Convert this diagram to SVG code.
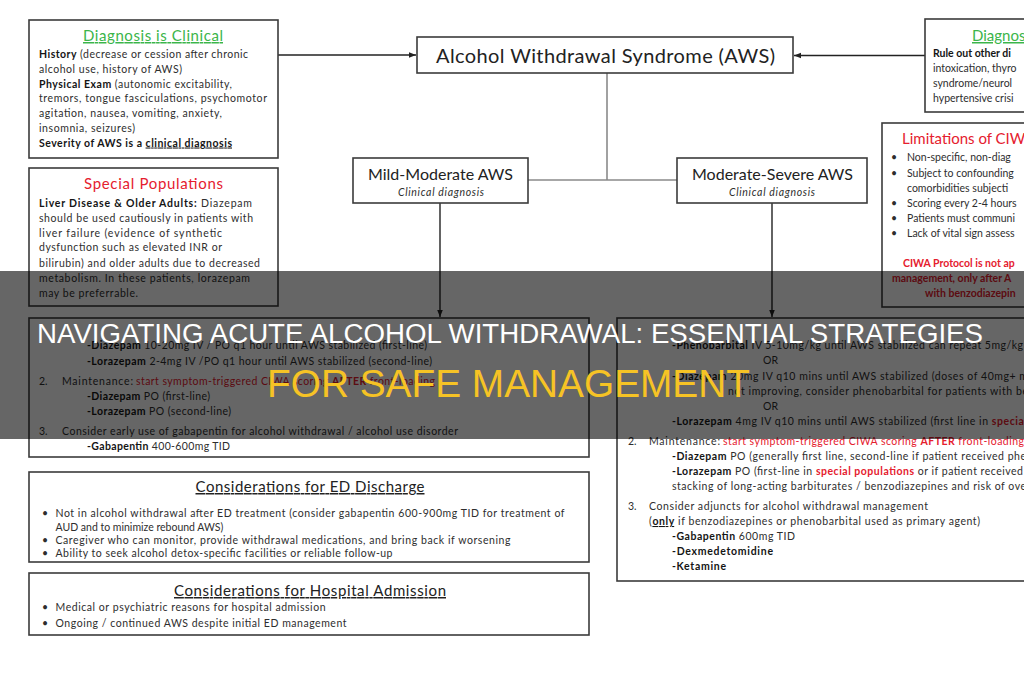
<svg xmlns="http://www.w3.org/2000/svg" width="1024" height="680" viewBox="0 0 1024 680">
<style>
.bx{fill:#fff;stroke:#3b3b3b;stroke-width:1.6}
.t{font-family:Lato,"Liberation Sans",sans-serif;font-size:10.5px;fill:#2e2e2e}
.b{font-weight:700;fill:#151515}
.r{fill:#e5202e}
.rb{fill:#e5202e;font-weight:700}
.g{fill:#3bb54a}
.h{font-size:15px}
.m{font-size:16px;fill:#222}
.u{text-decoration:underline}
.i{font-style:italic}
.ln{stroke:#222;stroke-width:1.4;fill:none}
.gl{stroke:#8a8a8a;stroke-width:1.6;fill:none}
.ttl{font-family:"Liberation Sans",Arial,sans-serif;text-anchor:middle}
</style>
<defs>
<marker id="arr" viewBox="0 0 10 10" refX="10" refY="5" markerUnits="userSpaceOnUse" markerWidth="7" markerHeight="7" orient="auto"><path d="M0,1 L10,5 L0,9 z" fill="#222"/></marker>
</defs>
<rect width="1024" height="680" fill="#fff"/>

<g id="connectors">
<line class="ln" x1="278" y1="55" x2="416" y2="55" marker-end="url(#arr)"/>
<line class="ln" x1="925" y1="55.5" x2="794" y2="55.5" marker-end="url(#arr)"/>
<line class="gl" x1="607" y1="73" x2="607" y2="180"/>
<line class="gl" x1="528" y1="180" x2="677" y2="180"/>
<line class="ln" x1="440" y1="203" x2="440" y2="317" marker-end="url(#arr)"/>
<line class="ln" x1="772" y1="203" x2="772" y2="317" marker-end="url(#arr)"/>
</g>

<g id="diagnosis-clinical">
<rect class="bx" x="29" y="20" width="249" height="138"/>
<text class="t h g u" x="153" y="41" text-anchor="middle" textLength="140">Diagnosis is Clinical</text>
<text class="t" x="39" y="58" textLength="209"><tspan class="b">History</tspan> (decrease or cession after chronic</text>
<text class="t" x="39" y="72.5" textLength="143">alcohol use, history of AWS)</text>
<text class="t" x="39" y="87.5" textLength="193"><tspan class="b">Physical Exam</tspan> (autonomic excitability,</text>
<text class="t" x="39" y="102" textLength="228">tremors, tongue fasciculations, psychomotor</text>
<text class="t" x="39" y="117" textLength="183">agitation, nausea, vomiting, anxiety,</text>
<text class="t" x="39" y="131.5" textLength="96">insomnia, seizures)</text>
<text class="t b" x="39" y="146.5" textLength="193">Severity of AWS is a <tspan class="u">clinical diagnosis</tspan></text>
</g>

<g id="special-populations">
<rect class="bx" x="29" y="168" width="249" height="138"/>
<text class="t h r" x="153.5" y="189" text-anchor="middle" textLength="139">Special Populations</text>
<text class="t" x="39" y="207" textLength="213"><tspan class="b">Liver Disease &amp; Older Adults:</tspan> Diazepam</text>
<text class="t" x="39" y="222" textLength="214">should be used cautiously in patients with</text>
<text class="t" x="39" y="236.5" textLength="183">liver failure (evidence of synthetic</text>
<text class="t" x="39" y="251" textLength="183">dysfunction such as elevated INR or</text>
<text class="t" x="39" y="266.5" textLength="221">bilirubin) and older adults due to decreased</text>
<text class="t" x="39" y="282" textLength="211">metabolism. In these patients, lorazepam</text>
<text class="t" x="39" y="297" textLength="99">may be preferrable.</text>
</g>

<g id="aws">
<rect class="bx" x="417" y="37" width="376" height="36"/>
<text class="t" style="font-size:20px;fill:#222" x="436" y="62.5" textLength="339">Alcohol Withdrawal Syndrome (AWS)</text>
</g>

<g id="diagnosis-exclusion">
<rect class="bx" x="925" y="19" width="110" height="93"/>
<text class="t h g u" x="972" y="41">Diagnos</text>
<text class="t b" x="933" y="57">Rule out other di</text>
<text class="t" x="933" y="72">intoxication, thyro</text>
<text class="t" x="933" y="87">syndrome/neurol</text>
<text class="t" x="933" y="102">hypertensive crisi</text>
</g>

<g id="limitations-ciwa">
<rect class="bx" x="882" y="123" width="160" height="184"/>
<text class="t h r" x="902" y="144">Limitations of CIW</text>
<text class="t" x="891" y="161">•</text><text class="t" x="907" y="161">Non-specific, non-diag</text>
<text class="t" x="891" y="176.5">•</text><text class="t" x="907" y="176.5">Subject to confounding</text>
<text class="t" x="907" y="191.5">comorbidities  subjecti</text>
<text class="t" x="891" y="206.5">•</text><text class="t" x="907" y="206.5">Scoring every 2-4 hours</text>
<text class="t" x="891" y="221.5">•</text><text class="t" x="907" y="221.5">Patients must communi</text>
<text class="t" x="891" y="236.5">•</text><text class="t" x="907" y="236.5">Lack of vital sign assess</text>
<text class="t rb" x="903" y="267">CIWA Protocol is not ap</text>
<text class="t rb" x="892" y="282">management, only after A</text>
<text class="t rb" x="925" y="297">with benzodiazepin</text>
</g>

<g id="mild-moderate">
<rect class="bx" x="353" y="158" width="175" height="45"/>
<text class="t m" x="368" y="180" textLength="145">Mild-Moderate AWS</text>
<text class="t i" x="398" y="195.5" textLength="86">Clinical diagnosis</text>
</g>

<g id="moderate-severe">
<rect class="bx" x="677" y="158" width="190" height="45"/>
<text class="t m" x="692" y="180" textLength="161">Moderate-Severe AWS</text>
<text class="t i" x="729" y="195.5" textLength="86">Clinical diagnosis</text>
</g>

<g id="mild-treatment">
<rect class="bx" x="29" y="318" width="560" height="139"/>
<text class="t" x="87" y="349" textLength="340"><tspan class="b">-Diazepam</tspan> 10-20mg IV / PO q1 hour until AWS stabilized (first-line)</text>
<text class="t" x="87" y="364.5" textLength="345"><tspan class="b">-Lorazepam</tspan> 2-4mg IV /PO q1 hour until AWS stabilized (second-line)</text>
<text class="t" x="39" y="384.5">2.</text>
<text class="t" x="62" y="384.5" textLength="71">Maintenance:</text>
<text class="t r" x="136" y="384.5" textLength="299">start symptom-triggered CIWA scoring <tspan class="b r">AFTER</tspan> front-loading</text>
<text class="t" x="87" y="399.5" textLength="123"><tspan class="b">-Diazepam</tspan> PO (first-line)</text>
<text class="t" x="87" y="414.5" textLength="144"><tspan class="b">-Lorazepam</tspan> PO (second-line)</text>
<text class="t" x="39" y="434.5">3.</text>
<text class="t" x="62" y="434.5" textLength="396">Consider early use of gabapentin for alcohol withdrawal / alcohol use disorder</text>
<text class="t" x="87" y="449.5" textLength="143"><tspan class="b">-Gabapentin</tspan> 400-600mg TID</text>
</g>

<g id="severe-treatment">
<rect class="bx" x="617" y="318" width="420" height="263"/>
<text class="t" x="672" y="349" textLength="351"><tspan class="b">-Phenobarbital</tspan> IV 5-10mg/kg until AWS stabilized can repeat 5mg/kg</text>
<text class="t" x="763" y="364">OR</text>
<text class="t" x="672" y="379.5" textLength="356"><tspan class="b">-Diazepam</tspan> 20mg IV q10 mins until AWS stabilized (doses of 40mg+ m</text>
<text class="t" x="728" y="394.5" textLength="300">not improving, consider phenobarbital for patients with be</text>
<text class="t" x="763" y="409.5">OR</text>
<text class="t" x="672" y="425" textLength="355"><tspan class="b">-Lorazepam</tspan> 4mg IV q10 mins until AWS stabilized (first line in <tspan class="rb">special</tspan></text>
<text class="t" x="628" y="445">2.</text>
<text class="t" x="649" y="445" textLength="71">Maintenance:</text>
<text class="t r" x="723" y="445" textLength="301">start symptom-triggered CIWA scoring <tspan class="b r">AFTER</tspan> front-loading</text>
<text class="t" x="672" y="459.5" textLength="354"><tspan class="b">-Diazepam</tspan> PO (generally first line, second-line if patient received phe</text>
<text class="t" x="672" y="474.5" textLength="351"><tspan class="b">-Lorazepam</tspan> PO (first-line in <tspan class="rb">special populations</tspan> or if patient received</text>
<text class="t" x="672" y="489.5" textLength="354">stacking of long-acting barbiturates / benzodiazepines and risk of ove</text>
<text class="t" x="628" y="510">3.</text>
<text class="t" x="649" y="510" textLength="279">Consider adjuncts for alcohol withdrawal management</text>
<text class="t" x="649" y="525" textLength="331">(<tspan class="b u">only</tspan> if benzodiazepines or phenobarbital used as primary agent)</text>
<text class="t" x="672" y="540" textLength="123"><tspan class="b">-Gabapentin</tspan> 600mg TID</text>
<text class="t b" x="672" y="555" textLength="101">-Dexmedetomidine</text>
<text class="t b" x="672" y="570" textLength="54">-Ketamine</text>
</g>

<g id="ed-discharge">
<rect class="bx" x="29" y="472" width="560" height="90"/>
<text class="t h u" style="fill:#222" x="310" y="492" text-anchor="middle" textLength="229">Considerations for ED Discharge</text>
<text class="t" x="42" y="517">•</text>
<text class="t" x="55.5" y="517" textLength="509">Not in alcohol withdrawal after ED treatment (consider gabapentin 600-900mg TID for treatment of</text>
<text class="t" x="55.5" y="531">AUD and to minimize rebound AWS)</text>
<text class="t" x="42" y="544">•</text>
<text class="t" x="55.5" y="544" textLength="455">Caregiver who can monitor, provide withdrawal medications, and bring back if worsening</text>
<text class="t" x="42" y="557">•</text>
<text class="t" x="55.5" y="557" textLength="337">Ability to seek alcohol detox-specific facilities or reliable follow-up</text>
</g>

<g id="hospital-admission">
<rect class="bx" x="29" y="573" width="560" height="62"/>
<text class="t h u" style="fill:#222" x="310" y="596" text-anchor="middle" textLength="272">Considerations for Hospital Admission</text>
<text class="t" x="42" y="611">•</text>
<text class="t" x="55.5" y="611" textLength="270">Medical or psychiatric reasons for hospital admission</text>
<text class="t" x="42" y="627">•</text>
<text class="t" x="55.5" y="627" textLength="291">Ongoing / continued AWS despite initial ED management</text>
</g>

<g id="title-banner">
<rect x="0" y="271" width="1024" height="168" fill="#000" fill-opacity="0.6"/>
<text class="ttl" x="510" y="343" font-size="27" fill="#fff" textLength="946" lengthAdjust="spacingAndGlyphs">NAVIGATING ACUTE ALCOHOL WITHDRAWAL: ESSENTIAL STRATEGIES</text>
<text class="ttl" x="508.5" y="397" font-size="39" fill="#f6c325" textLength="483" lengthAdjust="spacingAndGlyphs">FOR SAFE MANAGEMENT</text>
</g>
</svg>
